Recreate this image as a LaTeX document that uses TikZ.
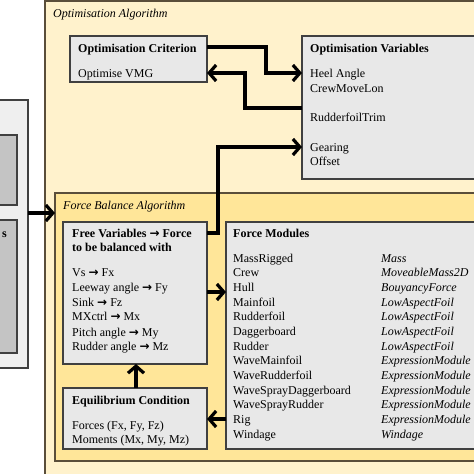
\documentclass[tikz,border=0pt]{standalone}
\usepackage{fontspec}
\setmainfont{Liberation Serif}
\newfontfamily\tnr{Liberation Serif}
\newfontfamily\arrfont{DejaVu Sans}
\newcommand{\rarr}{{\arrfont\bfseries →}}
\usetikzlibrary{arrows.meta}
\definecolor{outery}{HTML}{FFF2CC}
\definecolor{innery}{HTML}{FFE699}
\definecolor{boxg}{HTML}{E8E8E8}
\definecolor{darkg}{HTML}{C4C4C4}
\definecolor{edge}{HTML}{404040}
\definecolor{yedge}{HTML}{5A4E3A}
\tikzset{
  pane/.style={draw=edge, line width=1.4pt, fill=boxg},
  ypane/.style={draw=yedge, line width=1.4pt},
  txt/.style={anchor=base west, inner sep=0pt, font=\tnr\fontsize{12}{14}\selectfont},
  btxt/.style={txt, font=\tnr\fontsize{12}{14}\selectfont\bfseries},
  itxt/.style={txt, font=\tnr\fontsize{12}{14}\selectfont\itshape},
  conn/.style={line width=3.2pt, -{Straight Barb[length=7pt,width=16pt]}}
}
\begin{document}
\begin{tikzpicture}[x=1pt,y=-1pt]
\useasboundingbox (0,0) rectangle (474,474);
\clip (0,0) rectangle (474,474);
% outer optimisation region
\draw[ypane, fill=outery] (45,1) rectangle (540,540);
\node[itxt] (optlbl) at (53,17) {Optimisation Algorithm};
% left cropped box
\draw[pane, fill=boxg!70!white] (-30,100) rectangle (28,368);
\draw[pane, fill=darkg] (-30,135) rectangle (17,205);
\draw[pane, fill=darkg] (-30,220) rectangle (17,353);
\node[btxt, anchor=base east] (lefts) at (7,237) {s};
\coordinate (leftout) at (28,213);
% criterion
\draw[pane] (70,36) rectangle (207,82);
\node[btxt] (crittitle) at (78,52) {Optimisation Criterion};
\node[txt] (crittext) at (78,77) {Optimise VMG};
% variables
\draw[pane] (302,36) rectangle (540,179);
\node[btxt] (vartitle) at (310,52) {Optimisation Variables};
\node[txt] (heel) at (310,77) {Heel Angle};
\node[txt] (crewm) at (310,92) {CrewMoveLon};
\node[txt] (rtrim) at (310,121) {RudderfoilTrim};
\node[txt] (gear) at (310,151) {Gearing};
\node[txt] (offs) at (310,165) {Offset};
% force balance region
\draw[ypane, fill=innery] (55,193) rectangle (540,461);
\node[itxt] (fbalbl) at (63,209) {Force Balance Algorithm};
\coordinate (fbain) at (55,213);
% free variables
\draw[pane] (63,222) rectangle (207,364);
\node[btxt] (fv1) at (72,237) {Free Variables \rarr{} Force};
\node[btxt] (fv2) at (72,251) {to be balanced with};
\node[txt] (fv3) at (72,276) {Vs \rarr{} Fx};
\node[txt] (fv4) at (72,291) {Leeway angle \rarr{} Fy};
\node[txt] (fv5) at (72,306) {Sink \rarr{} Fz};
\node[txt] (fv6) at (72,320) {MXctrl \rarr{} Mx};
\node[txt] (fv7) at (72,336) {Pitch angle \rarr{} My};
\node[txt] (fv8) at (72,350) {Rudder angle \rarr{} Mz};
% equilibrium
\draw[pane] (63,388) rectangle (207,449);
\node[btxt] (eq1) at (72,404) {Equilibrium Condition};
\node[txt] (eq2) at (72,429) {Forces (Fx, Fy, Fz)};
\node[txt] (eq3) at (72,443) {Moments (Mx, My, Mz)};
% force modules
\draw[pane] (226,222) rectangle (540,449);
\node[btxt] (fmtitle) at (233,237) {Force Modules};
\foreach \n/\m [count=\i] in {MassRigged/Mass, Crew/MoveableMass2D, Hull/BouyancyForce,
  Mainfoil/LowAspectFoil, Rudderfoil/LowAspectFoil, Daggerboard/LowAspectFoil,
  Rudder/LowAspectFoil, WaveMainfoil/ExpressionModule, WaveRudderfoil/ExpressionModule,
  WaveSprayDaggerboard/ExpressionModule, WaveSprayRudder/ExpressionModule,
  Rig/ExpressionModule, Windage/Windage}{
  \node[txt] (fmn\i) at (233,{262.3+14.65*(\i-1)}) {\n};
  \node[itxt] (fmm\i) at (381,{262.3+14.65*(\i-1)}) {\m};
}
% connector anchor points
\coordinate (critout) at (207,47);
\coordinate (critin) at (207,73);
\coordinate (varin1) at (302,73);
\coordinate (varout) at (302,108);
\coordinate (varin2) at (302,147);
\coordinate (fvout1) at (207,233);
\coordinate (fvout2) at (207,292);
\coordinate (fmin) at (226,292);
\coordinate (fmout) at (226,419);
\coordinate (eqin) at (207,419);
\coordinate (eqout) at (136,388);
\coordinate (fvin) at (136,364);
% connectors
\draw[conn] (critout) -- (266,47) -- (266,73) -- (varin1);
\draw[conn] (varout) -- (245,108) -- (245,73) -- (critin);
\draw[conn] (fvout1) -- (218,233) -- (218,147) -- (varin2);
\draw[conn] (fvout2) -- (fmin);
\draw[conn] (fmout) -- (eqin);
\draw[conn] (eqout) -- (fvin);
\draw[conn] (leftout) -- (fbain);
\end{tikzpicture}
\end{document}
